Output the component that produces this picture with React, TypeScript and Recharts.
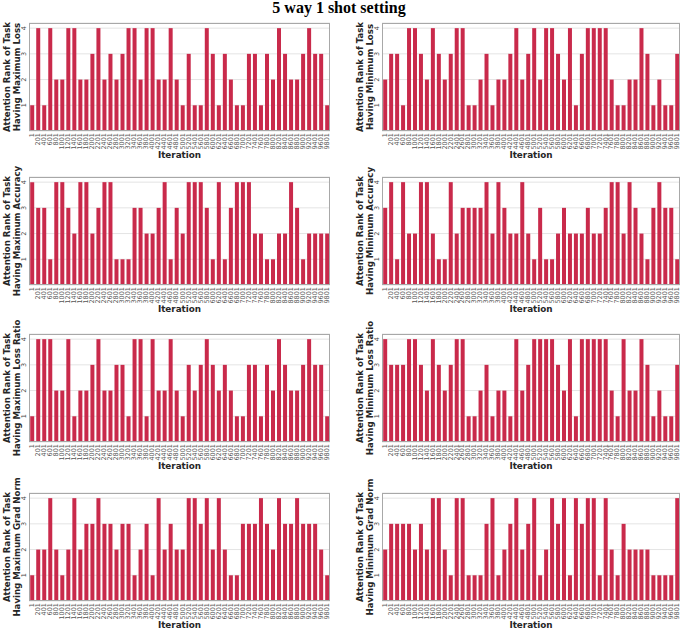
import React from 'react'
import { BarChart, Bar, XAxis, YAxis, CartesianGrid } from 'recharts'

// iteration checkpoints on the x axis
const ITERATIONS = [
  '1', '201', '401', '601', '801', '1001', '1201', '1401', '1601', '1801',
  '2001', '2201', '2401', '2601', '2801', '3001', '3201', '3401', '3601', '3801',
  '4001', '4201', '4401', '4601', '4801', '5001', '5201', '5401', '5601', '5801',
  '6001', '6201', '6401', '6601', '6801', '7001', '7201', '7401', '7601', '7801',
  '8001', '8201', '8401', '8601', '8801', '9001', '9201', '9401', '9601', '9801',
]

const RANK_TICKS = [1, 2, 3, 4]

const maxLoss = [
  1, 4, 1, 4, 2, 2, 4, 4, 2, 2, 3, 4, 2, 3, 2, 3, 4, 4, 2, 4,
  4, 2, 2, 4, 2, 1, 3, 1, 1, 4, 3, 1, 3, 2, 1, 1, 3, 3, 1, 3,
  2, 4, 3, 2, 2, 3, 4, 3, 3, 1,
]
const minLoss = [
  2, 3, 3, 1, 4, 4, 3, 2, 4, 3, 2, 3, 4, 4, 1, 1, 2, 3, 1, 2,
  2, 3, 4, 2, 3, 4, 2, 4, 4, 3, 2, 4, 1, 3, 4, 4, 4, 4, 2, 1,
  1, 2, 2, 4, 3, 1, 2, 1, 1, 3,
]
const maxAccuracy = [
  4, 3, 3, 1, 4, 4, 3, 2, 4, 4, 2, 3, 4, 4, 1, 1, 1, 3, 3, 2,
  2, 3, 4, 1, 3, 2, 4, 4, 4, 3, 1, 4, 1, 3, 4, 4, 4, 2, 2, 1,
  1, 2, 2, 4, 3, 1, 2, 2, 2, 2,
]
const minAccuracy = [
  3, 4, 1, 4, 2, 2, 4, 4, 2, 1, 1, 4, 2, 3, 3, 3, 3, 4, 2, 4,
  3, 2, 2, 4, 2, 1, 3, 1, 1, 2, 3, 2, 2, 2, 3, 2, 2, 3, 4, 4,
  2, 4, 3, 2, 1, 3, 4, 3, 3, 1,
]
const maxLossRatio = [
  1, 4, 4, 4, 2, 2, 4, 1, 2, 2, 3, 4, 2, 2, 3, 3, 1, 4, 4, 1,
  4, 2, 2, 4, 2, 1, 3, 2, 3, 4, 3, 2, 3, 2, 1, 1, 3, 3, 1, 3,
  2, 4, 3, 2, 2, 3, 4, 3, 3, 1,
]
const minLossRatio = [
  4, 3, 3, 3, 4, 4, 3, 2, 4, 3, 2, 3, 4, 4, 1, 1, 2, 3, 1, 2,
  2, 1, 4, 2, 3, 4, 4, 4, 4, 3, 2, 4, 1, 4, 4, 4, 4, 4, 2, 1,
  4, 2, 2, 4, 3, 1, 2, 1, 1, 3,
]
const maxGradNorm = [
  1, 2, 2, 4, 2, 1, 2, 4, 2, 3, 3, 4, 3, 3, 2, 3, 3, 1, 2, 3,
  1, 4, 2, 3, 2, 2, 4, 4, 3, 4, 2, 4, 2, 1, 1, 3, 3, 3, 4, 3,
  2, 4, 3, 3, 4, 3, 3, 3, 2, 1,
]
const minGradNorm = [
  2, 3, 3, 3, 3, 2, 3, 2, 4, 4, 2, 1, 4, 4, 1, 1, 1, 3, 4, 1,
  2, 3, 4, 2, 3, 4, 1, 2, 4, 3, 4, 1, 4, 3, 4, 4, 1, 4, 2, 1,
  3, 2, 2, 2, 2, 1, 1, 1, 1, 4,
]

const BAR_COLOR = '#c92a4b'
const FONT = '"DejaVu Sans", sans-serif'

// layout of the 2 x 4 grid (plot area positions)
const ROW_TOPS = [23, 177, 334, 493]
const COLS = [
  { left: 29, width: 301 },
  { left: 382, width: 298 },
]
const PLOT_H = 108
const Y_AXIS_W = 29
const X_AXIS_H = 34
const TOP_PAD = 40 // room for the long y labels, charts may overlap (transparent)

const XTick = ({ x, y, payload }: any) => (
  <text
    x={x}
    y={y}
    transform={`rotate(-90 ${x} ${y})`}
    textAnchor="end"
    dominantBaseline="central"
    fontSize={6.5}
    fill="#555"
    fontFamily={FONT}
  >
    {payload.value}
  </text>
)

const YTick = ({ x, y, payload }: any) => (
  <text
    x={x}
    y={y}
    transform={`rotate(-90 ${x} ${y})`}
    textAnchor="middle"
    fontSize={6.5}
    fill="#444"
    fontFamily={FONT}
  >
    {payload.value}
  </text>
)

function Panel({ values, metric, row, col }: { values: number[]; metric: string; row: number; col: number }) {
  const data = ITERATIONS.map((it, i) => ({ iteration: it, rank: values[i] }))
  const c = COLS[col]
  const chartLeft = c.left - Y_AXIS_W
  const chartTop = ROW_TOPS[row] - TOP_PAD
  const width = Y_AXIS_W + c.width + 4
  const height = TOP_PAD + PLOT_H + X_AXIS_H

  const yLabel = ({ viewBox }: any) => {
    const cy = viewBox.y + viewBox.height / 2
    const right = viewBox.x + viewBox.width
    const x1 = right - 22
    const x2 = right - 12
    return (
      <g fontFamily={FONT} fontWeight="bold" fontSize={8.6} fill="#262626">
        <text x={x1} y={cy} transform={`rotate(-90 ${x1} ${cy})`} textAnchor="middle" dominantBaseline="central">
          Attention Rank of Task
        </text>
        <text x={x2} y={cy} transform={`rotate(-90 ${x2} ${cy})`} textAnchor="middle" dominantBaseline="central">
          {`Having ${metric}`}
        </text>
      </g>
    )
  }

  const xLabel = ({ viewBox }: any) => (
    <text
      x={viewBox.x + viewBox.width / 2}
      y={viewBox.y + 24}
      textAnchor="middle"
      dominantBaseline="central"
      fontFamily={FONT}
      fontWeight="bold"
      fontSize={8.8}
      fill="#262626"
    >
      Iteration
    </text>
  )

  return (
    <>
      <div style={{ position: 'absolute', left: chartLeft, top: chartTop }}>
        <BarChart
          width={width}
          height={height}
          data={data}
          margin={{ top: TOP_PAD, right: 4, left: 0, bottom: 0 }}
          barCategoryGap="20%"
        >
          <CartesianGrid vertical={false} stroke="#e4e4e4" strokeWidth={1} />
          <XAxis
            dataKey="iteration"
            interval={0}
            height={X_AXIS_H}
            tick={<XTick />}
            tickLine={false}
            tickSize={2}
            tickMargin={0}
            axisLine={false}
            label={xLabel}
          />
          <YAxis
            width={Y_AXIS_W}
            domain={[0, 4.2]}
            ticks={RANK_TICKS}
            tick={<YTick />}
            tickLine={false}
            tickSize={2}
            tickMargin={1}
            axisLine={false}
            label={yLabel}
          />
          <Bar dataKey="rank" fill={BAR_COLOR} isAnimationActive={false} />
        </BarChart>
      </div>
      <div
        style={{
          position: 'absolute',
          left: c.left,
          top: ROW_TOPS[row],
          width: c.width,
          height: PLOT_H,
          border: '1px solid #a8a8a8',
          boxSizing: 'border-box',
          pointerEvents: 'none',
        }}
      />
    </>
  )
}

export default function App() {
  return (
    <div style={{ position: 'absolute', left: 0, top: 0, width: 685, height: 630, background: '#fff', overflow: 'hidden' }}>
      <Panel values={maxLoss} metric="Maximum Loss" row={0} col={0} />
      <Panel values={minLoss} metric="Minimum Loss" row={0} col={1} />
      <Panel values={maxAccuracy} metric="Maximum Accuracy" row={1} col={0} />
      <Panel values={minAccuracy} metric="Minimum Accuracy" row={1} col={1} />
      <Panel values={maxLossRatio} metric="Maximum Loss Ratio" row={2} col={0} />
      <Panel values={minLossRatio} metric="Minimum Loss Ratio" row={2} col={1} />
      <Panel values={maxGradNorm} metric="Maximum Grad Norm" row={3} col={0} />
      <Panel values={minGradNorm} metric="Minimum Grad Norm" row={3} col={1} />
      <div
        style={{
          position: 'absolute',
          left: 0,
          top: 0,
          width: 678,
          textAlign: 'center',
          fontFamily: '"Liberation Serif", serif',
          fontWeight: 'bold',
          fontSize: 16,
          lineHeight: '16px',
        }}
      >
        5 way 1 shot setting
      </div>
    </div>
  )
}
